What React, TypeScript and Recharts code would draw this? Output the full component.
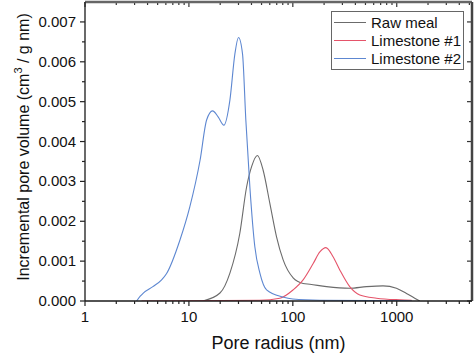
import { LineChart, Line, XAxis, YAxis, Legend, ReferenceLine } from "recharts";

const FONT = "'Liberation Sans', Arial, sans-serif";

// pore radius (nm) / incremental pore volume (cm3 / g nm)
const rawMealRadius = [13.6, 19.9, 24.8, 30.9, 35.9, 40.1, 45.6, 51.8, 60.1, 69.7, 80.7, 100.7, 125.6, 146, 211, 353, 511, 738, 993, 1240, 1490, 1665];
const rawMealVolume = [0, 0.0002, 0.0007, 0.0017, 0.00286, 0.00337, 0.00365, 0.00328, 0.00245, 0.00161, 0.00103, 0.00058, 0.00044, 0.00042, 0.00036, 0.00032, 0.00036, 0.00038, 0.00032, 0.00019, 0.00007, 0];

const limestone1Radius = [3.5, 48, 75, 100.7, 125.6, 157, 182, 208, 244, 283, 353, 441, 638, 1070, 1390];
const limestone1Volume = [0, 0.00002, 0.00007, 0.00028, 0.00053, 0.00094, 0.00123, 0.00134, 0.00111, 0.00078, 0.00036, 0.00015, 0.00007, 0.00003, 0.00002];

const limestone2Radius = [3.14, 3.4, 3.64, 4.5, 5.46, 6.1, 8.2, 10.2, 12.8, 14.8, 16.9, 19.1, 21.7, 24.8, 27.7, 30.0, 32.8, 35.3, 38.6, 43.1, 48.2, 55.9, 80, 100, 182, 1070, 1400];
const limestone2Volume = [0, 0.00012, 0.0002, 0.00036, 0.00053, 0.00069, 0.00153, 0.00236, 0.00353, 0.00454, 0.00477, 0.00462, 0.00441, 0.00504, 0.0062, 0.00661, 0.0062, 0.00454, 0.00286, 0.00136, 0.0007, 0.00028, 0.0001, 0.00005, 0.00002, 0.00001, 0];

const xDomain = [1, 5300];
const yDomain = [0, 0.0075];
const xMajorTicks = [1, 10, 100, 1000];
const xMinorTicks = [2, 3, 4, 5, 6, 7, 8, 9, 20, 30, 40, 50, 60, 70, 80, 90, 200, 300, 400, 500, 600, 700, 800, 900, 2000, 3000, 4000, 5000];
const yMajorTicks = [0, 0.001, 0.002, 0.003, 0.004, 0.005, 0.006, 0.007];
const yMinorTicks = [0.0005, 0.0015, 0.0025, 0.0035, 0.0045, 0.0055, 0.0065];

const seriesNames = ["Raw meal", "Limestone #1", "Limestone #2"];
const seriesColors = ["#6b6b6b", "#e5546a", "#5d87d1"];

const toPoints = (rs: number[], vs: number[]) => rs.map((r, i) => ({ r, v: vs[i] }));

const series = [
  toPoints(rawMealRadius, rawMealVolume),
  toPoints(limestone1Radius, limestone1Volume),
  toPoints(limestone2Radius, limestone2Volume),
];

const allX = [...xMajorTicks, ...xMinorTicks];
const allY = [...yMajorTicks, ...yMinorTicks];

const BottomTick = (props: any) => {
  const { x, y, payload } = props;
  const major = xMajorTicks.includes(payload.value);
  return (
    <g>
      <line x1={x} y1={y} x2={x} y2={y + (major ? 5 : 3)} stroke="#222" strokeWidth={1.2} />
      {major && (
        <text x={x} y={y + 21} textAnchor="middle" fontSize={15} fontFamily={FONT} fill="#111">
          {payload.value}
        </text>
      )}
    </g>
  );
};

const LeftTick = (props: any) => {
  const { x, y, payload } = props;
  const major = yMajorTicks.includes(payload.value);
  return (
    <g>
      <line x1={x} y1={y} x2={x - (major ? 5 : 3)} y2={y} stroke="#222" strokeWidth={1.2} />
      {major && (
        <text x={x - 9} y={y + 5} textAnchor="end" fontSize={15} fontFamily={FONT} fill="#111">
          {payload.value.toFixed(3)}
        </text>
      )}
    </g>
  );
};

// inward ticks on the top frame, placed by the reference line's own coordinates
const topTickShape = (len: number) => (p: any) => {
  const top = Math.min(p.y1, p.y2);
  return <line x1={p.x1} y1={top} x2={p.x1} y2={top + len} stroke="#333" strokeWidth={1.2} />;
};

const rightTickShape = (len: number) => (p: any) => {
  const right = Math.max(p.x1, p.x2);
  return <line x1={right} y1={p.y1} x2={right - len} y2={p.y1} stroke="#333" strokeWidth={1.2} />;
};

const renderLegend = () => (
  <div
    style={{
      boxSizing: "border-box",
      width: 133,
      height: 59,
      border: "1px solid #666",
      background: "#fff",
      paddingTop: 2,
      fontFamily: FONT,
      fontSize: 15,
      color: "#111",
    }}
  >
    {seriesNames.map((n, i) => (
      <div key={n} style={{ display: "flex", alignItems: "center", height: 17.8 }}>
        <div style={{ width: 32, marginLeft: 2, borderTop: `1px solid ${seriesColors[i]}` }} />
        <span style={{ marginLeft: 5, lineHeight: "17.8px" }}>{n}</span>
      </div>
    ))}
  </div>
);

export default function App() {
  return (
    <div style={{ position: "absolute", left: 0, top: 0, background: "#fff" }}>
      <LineChart width={474} height={355} margin={{ top: 2, right: 2, left: 0, bottom: 0 }}>
        <XAxis
          dataKey="r"
          type="number"
          scale="log"
          domain={xDomain}
          allowDataOverflow
          ticks={allX}
          interval={0}
          tickSize={0}
          tickMargin={0}
          tickLine={false}
          tick={<BottomTick />}
          height={54}
          axisLine={{ stroke: "#1a1a1a", strokeWidth: 1.3 }}
          label={{
            content: (p: any) => {
              const vb = p.viewBox;
              return (
                <text x={vb.x + vb.width / 2} y={vb.y + 48} textAnchor="middle" fontSize={18} fontFamily={FONT} fill="#111">
                  Pore radius (nm)
                </text>
              );
            },
          }}
        />
        <YAxis
          type="number"
          domain={yDomain}
          allowDataOverflow
          ticks={allY}
          interval={0}
          tickSize={0}
          tickMargin={0}
          tickLine={false}
          tick={<LeftTick />}
          width={85}
          axisLine={{ stroke: "#1a1a1a", strokeWidth: 1.3 }}
          label={{
            content: () => (
              <text x={29} y={147} transform="rotate(-90, 29, 147)" textAnchor="middle" fontSize={16} fontFamily={FONT} fill="#111">
                <tspan>Incremental pore volume (cm</tspan>
                <tspan fontSize={11} dy={-7}>3</tspan>
                <tspan dy={7}> / g nm)</tspan>
              </text>
            ),
          }}
        />
        {allX.map((v) => (
          <ReferenceLine key={"tx" + v} x={v} ifOverflow="visible" shape={topTickShape(xMajorTicks.includes(v) ? 5 : 3)} />
        ))}
        {allY.map((v) => (
          <ReferenceLine key={"ry" + v} y={v} ifOverflow="visible" shape={rightTickShape(yMajorTicks.includes(v) ? 5 : 3)} />
        ))}
        <ReferenceLine y={yDomain[1]} ifOverflow="visible" stroke="#666" strokeWidth={2.5} />
        <ReferenceLine x={xDomain[1]} ifOverflow="visible" stroke="#444" strokeWidth={2.5} />
        <Legend
          layout="vertical"
          align="center"
          verticalAlign="middle"
          wrapperStyle={{ left: 331, top: 11, width: 133, height: 59 }}
          content={renderLegend}
        />
        {series.map((d, i) => (
          <Line
            key={seriesNames[i]}
            data={d}
            dataKey="v"
            name={seriesNames[i]}
            type="monotone"
            stroke={seriesColors[i]}
            strokeWidth={1.1}
            dot={false}
            isAnimationActive={false}
          />
        ))}
      </LineChart>
    </div>
  );
}
